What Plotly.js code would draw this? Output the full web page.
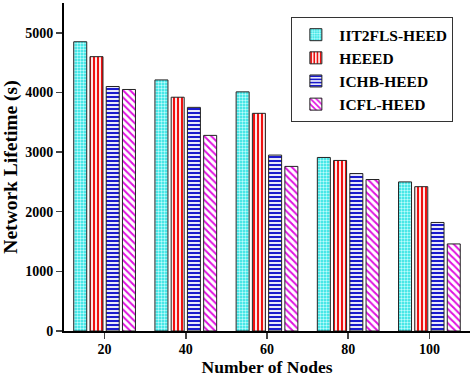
<!DOCTYPE html>
<html><head><meta charset="utf-8">
<script src="https://cdn.plot.ly/plotly-3.0.1.min.js"></script>
<style>html,body{margin:0;padding:0;background:#fff}#c{width:474px;height:377px}</style>
</head><body><div id="c"></div>
<script>
var nodes = [20, 40, 60, 80, 100];
var iit2fls = [4850, 4210, 4010, 2910, 2500];
var heeed = [4600, 3920, 3650, 2860, 2420];
var ichb = [4100, 3750, 2950, 2640, 1820];
var icfl = [4050, 3280, 2760, 2540, 1460];
var names = ['IIT2FLS-HEED', 'HEEED', 'ICHB-HEED', 'ICFL-HEED'];
var yTicks = [0, 1000, 2000, 3000, 4000, 5000];

var F = 'Liberation Serif, Times New Roman, serif';
function tr(y, name, bg, pat){
  return {type:'bar', x:nodes, y:y, name:name,
    marker:{color:bg, line:{color:'#222', width:1}, pattern:pat}};
}
var data = [
  tr(iit2fls, names[0], '#22e0e0', {shape:'.', bgcolor:'#22e0e0', fgcolor:'#bdfcfc', size:3, solidity:0.5, fillmode:'replace'}),
  tr(heeed, names[1], '#ffffff', {shape:'|', bgcolor:'#ffffff', fgcolor:'#ee1111', size:4, solidity:0.55, fillmode:'replace'}),
  tr(ichb, names[2], '#ffffff', {shape:'-', bgcolor:'#ffffff', fgcolor:'#1a1acc', size:4, solidity:0.55, fillmode:'replace'}),
  tr(icfl, names[3], '#ffffff', {shape:'\\', bgcolor:'#ffffff', fgcolor:'#e010e0', size:5, solidity:0.4, fillmode:'replace'})
];

var layout = {
  width:474, height:377,
  margin:{l:64, r:4, t:3, b:46},
  paper_bgcolor:'#fff', plot_bgcolor:'#fff',
  barmode:'group', bargap:0.2, bargroupgap:0.2,
  font:{family:F, color:'#000'},
  showlegend:true,
  legend:{x:0.56, y:0.957, xanchor:'left', yanchor:'top', bgcolor:'#fff',
    bordercolor:'#333', borderwidth:1, font:{family:F, size:15.5, weight:'bold', color:'#000'},
    tracegroupgap:0, itemwidth:37},
  xaxis:{range:[10,110], tickvals:nodes, ticktext:nodes.map(String), ticks:'outside', ticklen:6, tickwidth:1.5,
    showline:true, linecolor:'#000', linewidth:2, showgrid:false, zeroline:false,
    ticklabelstandoff:-2,
    tickfont:{family:F, size:14, weight:'bold'},
    title:{text:'Number of Nodes', font:{family:F, size:17.5, weight:'bold'}, standoff:6}},
  yaxis:{range:[0,5500], tickvals:yTicks, ticks:'outside', ticklen:6, tickwidth:1.5,
    showline:true, linecolor:'#000', linewidth:2, showgrid:false, zeroline:false,
    tickfont:{family:F, size:14, weight:'bold'},
    title:{text:'Network Lifetime (s)', font:{family:F, size:19.5, weight:'bold'}, standoff:4}},
  xaxis2:{overlaying:'x', side:'top', range:[10,110], tickvals:nodes, ticks:'inside', ticklen:6, tickwidth:1.5,
    showticklabels:false, showline:true, linecolor:'#000', linewidth:2, showgrid:false, zeroline:false},
  yaxis2:{overlaying:'y', side:'right', range:[0,5500], tickvals:yTicks, ticks:'inside', ticklen:6, tickwidth:1.5,
    showticklabels:false, showline:true, linecolor:'#000', linewidth:2, showgrid:false, zeroline:false}
};
Plotly.newPlot('c', data, layout, {staticPlot:true, displayModeBar:false});
</script></body></html>
